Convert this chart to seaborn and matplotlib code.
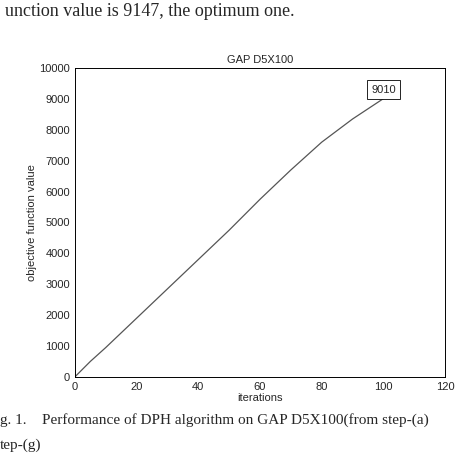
import matplotlib
matplotlib.use('Agg')
import matplotlib.pyplot as plt
import seaborn as sns

# values
iterations = [0, 5, 10, 20, 30, 40, 50, 60, 70, 80, 90, 100]
objective = [0, 500, 950, 1900, 2850, 3800, 4750, 5750, 6700, 7600, 8350, 9010]
final_label = '9010'

sns.set_style('white')
plt.rcParams['font.family'] = ['Liberation Sans', 'DejaVu Sans']

fig = plt.figure(figsize=(4.74, 4.63), dpi=100)
ax = fig.add_axes([0.158, 0.186, 0.781, 0.667])

sns.lineplot(x=iterations, y=objective, ax=ax, color='#555555', linewidth=0.9)

ax.set_xlim(0, 120)
ax.set_ylim(0, 10000)
ax.set_xticks(range(0, 121, 20))
ax.set_yticks(range(0, 10001, 1000))
ax.tick_params(direction='in', labelsize=8, length=3)
for s in ax.spines.values():
    s.set_color('black')
    s.set_linewidth(0.7)
ax.set_title('GAP D5X100', fontsize=8, pad=4)
ax.set_xlabel('iterations', fontsize=8, labelpad=1)
ax.set_ylabel('objective function value', fontsize=8, labelpad=2)

ax.text(iterations[-1], 9300, final_label, fontsize=8, ha='center', va='center',
        bbox=dict(facecolor='white', edgecolor='black', linewidth=0.6, pad=3))

serif = ['Liberation Serif', 'DejaVu Serif']
fig.text(0.01, 0.965, 'unction value is 9147, the optimum one.', fontsize=13, family=serif)
fig.text(0.0, 0.085, 'g. 1.    Performance of DPH algorithm on GAP D5X100(from step-(a)',
         fontsize=11, family=serif)
fig.text(0.0, 0.03, 'tep-(g)', fontsize=11, family=serif)

fig.savefig('out.png', dpi=100)
